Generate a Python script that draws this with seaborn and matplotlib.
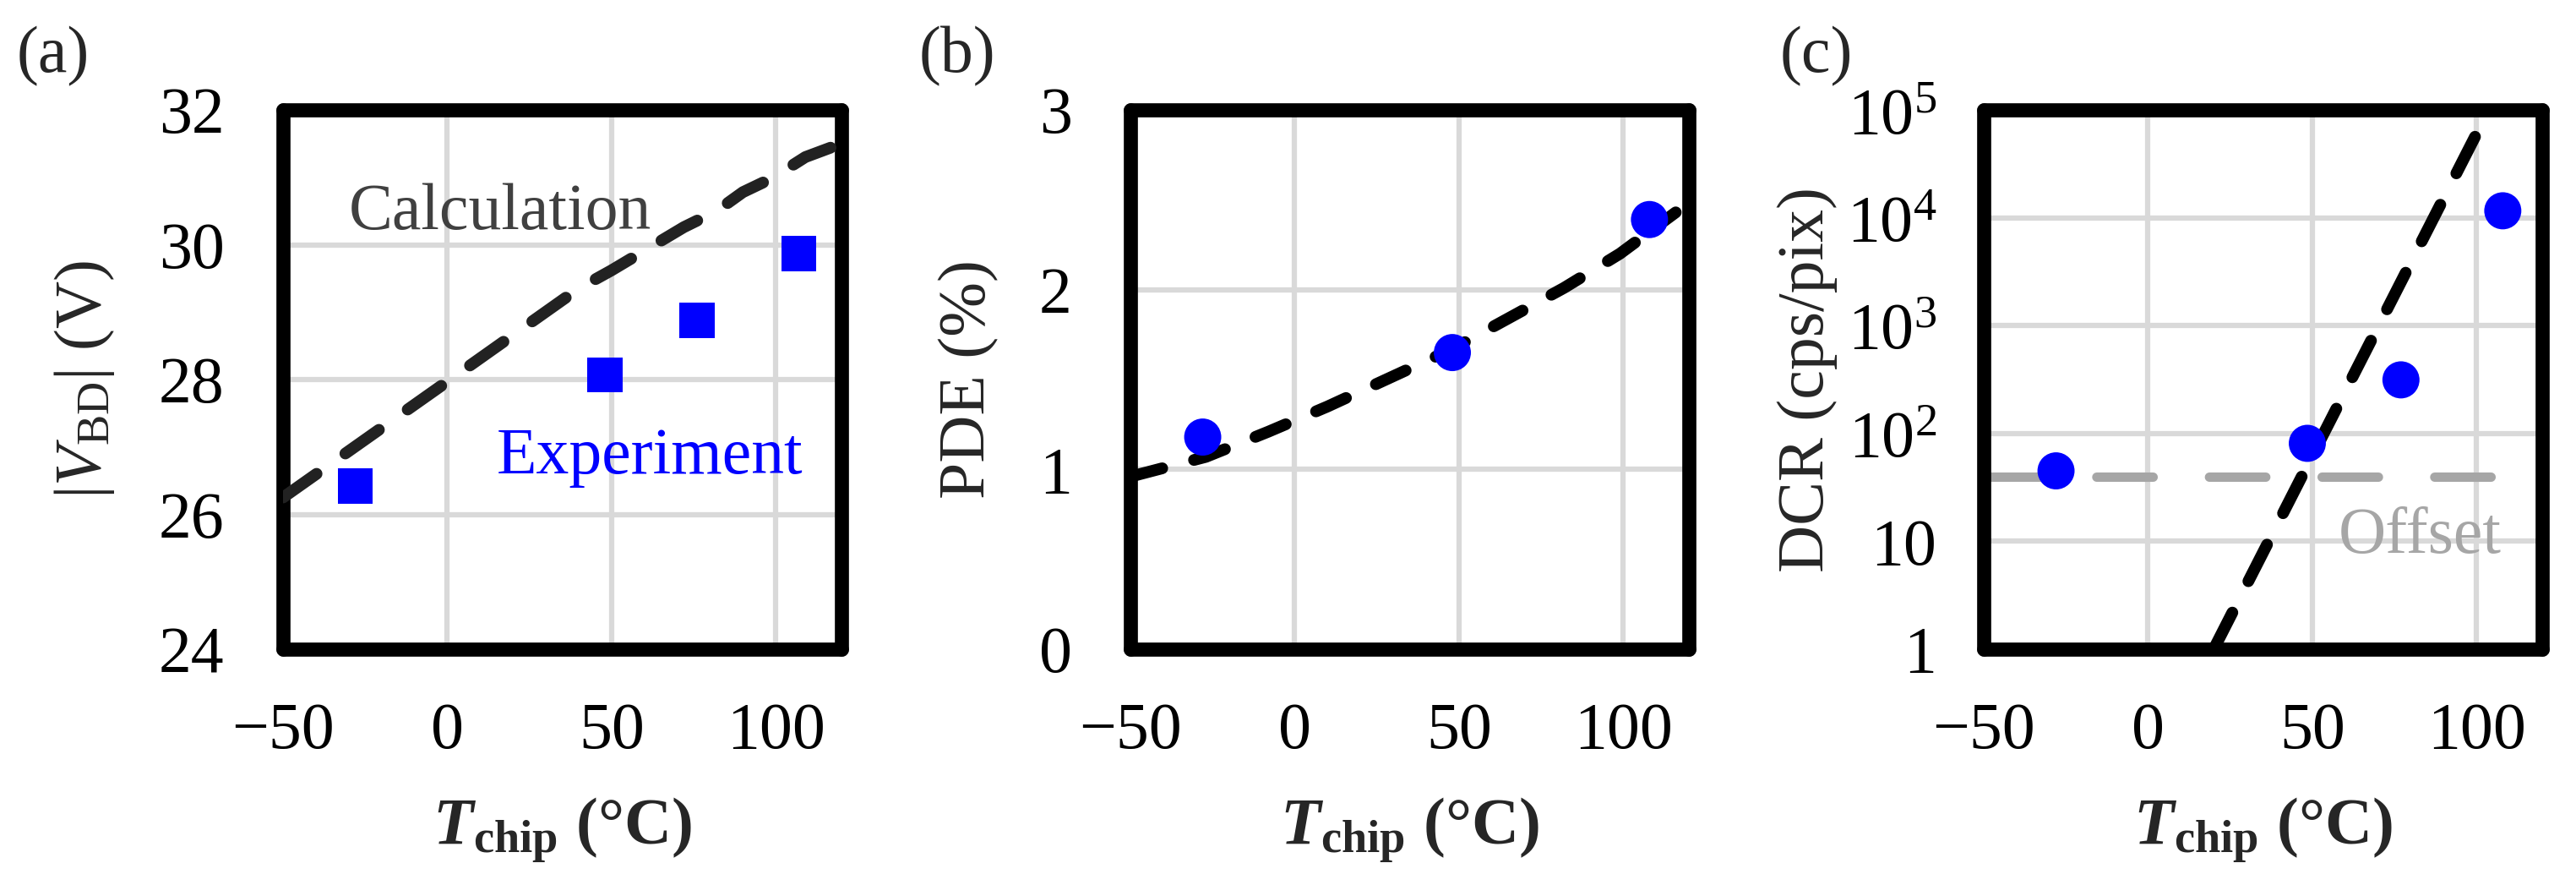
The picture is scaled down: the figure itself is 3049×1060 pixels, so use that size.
import numpy as np
import pandas as pd
import matplotlib
matplotlib.use("Agg")
import matplotlib.pyplot as plt
import seaborn as sns

sns.set_theme(style="white")
plt.rcParams['font.family'] = ['Liberation Serif', 'DejaVu Serif']
plt.rcParams['mathtext.fontset'] = 'custom'
plt.rcParams['mathtext.rm'] = 'Liberation Serif'
plt.rcParams['mathtext.it'] = 'Liberation Serif:italic'
plt.rcParams['mathtext.bf'] = 'Liberation Serif:bold'
plt.rcParams['mathtext.bfit'] = 'Liberation Serif:bold:italic'

# (a) breakdown voltage
a_exp_T = [-28, 48, 76, 107]
a_exp_V = [26.42, 28.07, 28.88, 29.87]
a_calc_T = [-50, 0, 40, 50, 72, 82, 90, 99, 109, 120]
a_calc_V = [26.25, 27.97, 29.35, 29.62, 30.26, 30.5, 30.78, 30.99, 31.3, 31.5]

# (b) PDE
b_exp_T = [-28, 48, 108]
b_exp_P = [1.18, 1.65, 2.39]
b_calc_T = [-50, -27, -8, 10, 29, 48, 64, 82, 99, 116]
b_calc_P = [0.96, 1.07, 1.21, 1.35, 1.51, 1.67, 1.83, 2.01, 2.2, 2.43]

# (c) DCR
c_exp_T = [-28, 48.5, 77, 108]
c_exp_D = [45, 81, 314, 11600]
c_calc_T = [20, 100]
c_calc_D = [1.0, 60000]
c_offset_T = [-50, 120]
c_offset_D = [40, 40]

xticks = [-50, 0, 50, 100]
FS = 56
LW_SP = 12
GRID = '#d9d9d9'
BLUE = '#0000ff'

fig = plt.figure(figsize=(30.49, 10.60), dpi=100)
W, H = 3049, 1060
def mkax(left_px):
    return fig.add_axes([left_px / W, 1 - 768 / H, 661 / W, 638 / H])

axa = mkax(335)
axb = mkax(1338)
axc = mkax(2348)

xlabel = r'$\mathbfit{T}_{\mathbf{chip}}$ $\mathbf{(°C)}$'

for ax in (axa, axb, axc):
    ax.set_xlim(-50, 120)
    ax.set_xticks(xticks)
    ax.set_xticklabels(['\u221250', '0', '50', '100'])
    ax.grid(True, color=GRID, linewidth=4.5)
    ax.set_axisbelow(True)
    for s in ax.spines.values():
        s.set_linewidth(LW_SP)
        s.set_color('black')
        s.set_capstyle('round')
    ax.tick_params(axis='x', labelsize=FS, length=0, pad=45, colors='black')
    ax.tick_params(axis='y', labelsize=FS, length=0, pad=50, colors='black')
    ax.set_xlabel(xlabel, fontsize=FS, labelpad=28)

# (a)
sns.lineplot(x=a_calc_T, y=a_calc_V, ax=axa, color='#222222', linewidth=10,
             dashes=False, zorder=3)
axa.lines[-1].set_dashes([3.5, 3.0])
axa.lines[-1].set_dash_capstyle('round')
sns.scatterplot(x=a_exp_T, y=a_exp_V, ax=axa, marker='s', s=900, color=BLUE,
                edgecolor='none', zorder=4)
axa.set_ylim(24, 32)
axa.set_yticks([24, 26, 28, 30, 32])
axa.set_ylabel(r'$|V_{\mathrm{BD}}|$ (V)', fontsize=FS, labelpad=36)
axa.text(-30, 30.47, 'Calculation', fontsize=FS, color='#404040', va='center', ha='left')
axa.text(15, 26.84, 'Experiment', fontsize=FS, color=BLUE, va='center', ha='left')

# (b)
sns.lineplot(x=b_calc_T, y=b_calc_P, ax=axb, color='black', linewidth=10,
             dashes=False, zorder=3)
axb.lines[-1].set_dashes([2.8, 2.8])
axb.lines[-1].set_dash_capstyle('round')
sns.scatterplot(x=b_exp_T, y=b_exp_P, ax=axb, marker='o', s=1000, color=BLUE,
                edgecolor='none', zorder=4)
axb.set_ylim(0, 3)
axb.set_yticks([0, 1, 2, 3])
axb.set_ylabel('PDE (%)', fontsize=FS, labelpad=34)

# (c)
axc.set_yscale('log')
sns.lineplot(x=c_offset_T, y=c_offset_D, ax=axc, color='#a6a6a6', linewidth=8,
             dashes=False, zorder=2)
axc.lines[-1].set_dashes([6, 6])
axc.lines[-1].set_dash_capstyle('round')
sns.lineplot(x=c_calc_T, y=c_calc_D, ax=axc, color='black', linewidth=10,
             dashes=False, zorder=3)
axc.lines[-1].set_dashes([3.5, 3.0])
axc.lines[-1].set_dash_capstyle('round')
sns.scatterplot(x=c_exp_T, y=c_exp_D, ax=axc, marker='o', s=1000, color=BLUE,
                edgecolor='none', zorder=4)
axc.set_ylim(1, 1e5)
axc.set_yticks([1, 10, 100, 1000, 1e4, 1e5])
axc.set_yticklabels(['1', '10', r'$10^{2}$', r'$10^{3}$', r'$10^{4}$', r'$10^{5}$'])
axc.minorticks_off()
axc.tick_params(axis='y', pad=40)
axc.set_ylabel('DCR (cps/pix)', fontsize=FS, labelpad=8)
axc.text(58, 11, 'Offset', fontsize=FS, color='#a6a6a6', va='center', ha='left')

for lbl, xpx in (('(a)', 20), ('(b)', 1088), ('(c)', 2107)):
    fig.text(xpx / W, 1 - 67 / H, lbl, fontsize=FS, va='center', ha='left')

fig.savefig('out.png', dpi=100)
